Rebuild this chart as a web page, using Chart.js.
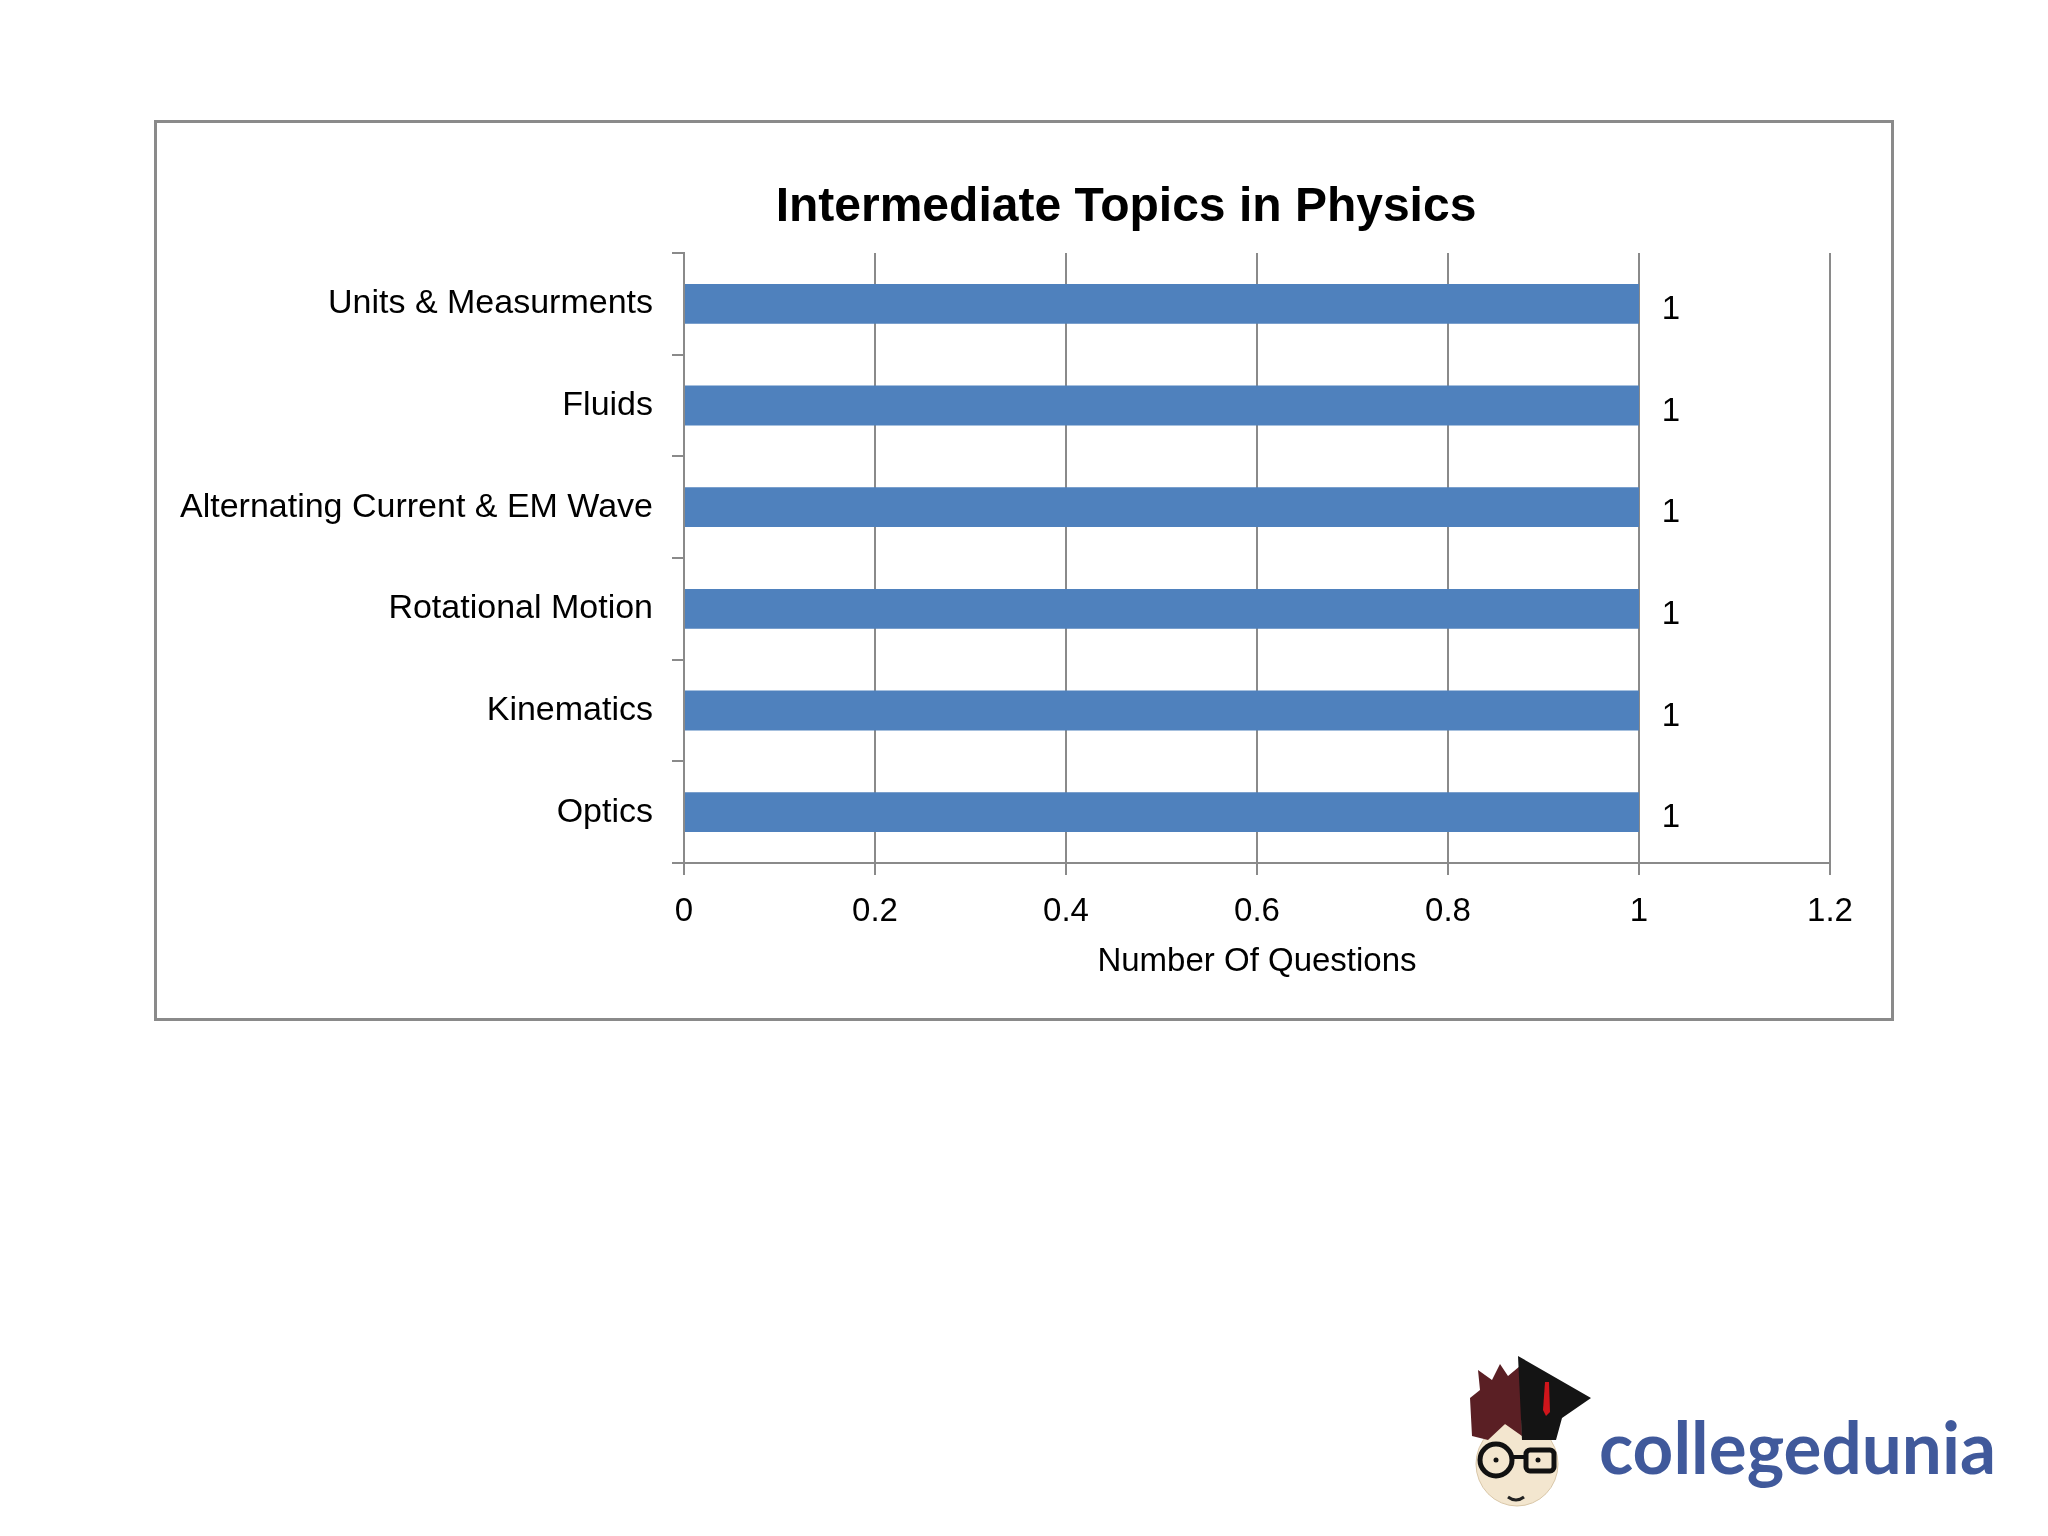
<!DOCTYPE html>
<html>
<head>
<meta charset="utf-8">
<script src="https://cdn.jsdelivr.net/npm/chart.js@4.4.1/dist/chart.umd.min.js"></script>
<style>
  html, body { margin: 0; padding: 0; background: #ffffff; width: 2048px; height: 1536px; overflow: hidden; }
  #frame { position: absolute; left: 154px; top: 120px; width: 1734px; height: 895px; border: 3px solid #8a8a8a; background: #fff; }
  #frame canvas { display: block; }
  #logo { position: absolute; left: 1440px; top: 1330px; width: 600px; height: 200px; }
</style>
</head>
<body>
<div id="frame"><canvas id="chart"></canvas></div>
<svg id="logo" width="600" height="200" viewBox="1440 1330 600 200" xmlns="http://www.w3.org/2000/svg">
  <!-- face -->
  <ellipse cx="1517" cy="1464" rx="41" ry="42" fill="#f3e6cf" stroke="#d9c7a8" stroke-width="1"/>
  <!-- hair -->
  <path d="M1472 1436 L1470 1398 L1480 1390 L1478 1370 L1492 1380 L1500 1364 L1508 1376 L1520 1366 L1522 1436 L1505 1424 L1488 1440 Z" fill="#5a1f24"/>
  <!-- mortarboard -->
  <path d="M1518 1356 L1591 1398 L1562 1418 L1556 1440 L1522 1440 Z" fill="#141414"/>
  <path d="M1545 1382 L1549 1382 L1550 1412 L1546 1416 L1543 1410 Z" fill="#d0151b"/>
  <!-- glasses -->
  <circle cx="1496" cy="1460" r="16" fill="none" stroke="#111" stroke-width="5"/>
  <rect x="1526" y="1450" width="28" height="21" rx="4" fill="none" stroke="#111" stroke-width="5"/>
  <line x1="1512" y1="1457" x2="1526" y2="1457" stroke="#111" stroke-width="4"/>
  <circle cx="1496" cy="1460" r="2.5" fill="#111"/>
  <circle cx="1538" cy="1460" r="2.5" fill="#111"/>
  <path d="M1508 1497 Q1516 1503 1524 1497" fill="none" stroke="#222" stroke-width="3"/>
  <!-- wordmark -->
  <text x="1599" y="1474" font-family="Lato, 'Open Sans', sans-serif" font-weight="700" font-size="72" textLength="397" lengthAdjust="spacingAndGlyphs" fill="#40599b">collegedunia</text>
</svg>
<script>
// ---- data ----
const chartTitle = 'Intermediate Topics in Physics';
const categories = ['Units & Measurments', 'Fluids', 'Alternating Current & EM Wave', 'Rotational Motion', 'Kinematics', 'Optics'];
const questionCounts = [1, 1, 1, 1, 1, 1];
const xTickLabels = ['0', '0.2', '0.4', '0.6', '0.8', '1', '1.2'];
const xAxisTitle = 'Number Of Questions';

// ---- styling ----
const FONT = '"Liberation Sans", Arial, sans-serif';
const GRID = '#8a8a8a';

const valueLabels = {
  id: 'valueLabels',
  afterDatasetsDraw(chart) {
    const ctx = chart.ctx;
    const meta = chart.getDatasetMeta(0);
    const values = chart.data.datasets[0].data;
    ctx.save();
    ctx.font = '33px ' + FONT;
    ctx.fillStyle = '#000';
    ctx.textAlign = 'center';
    ctx.textBaseline = 'middle';
    meta.data.forEach((bar, i) => {
      ctx.fillText(String(values[i]), bar.x + 32, bar.y + 6);
    });
    ctx.restore();
  }
};

// Title drawn off-centre, as in the original (centred over the right part of the frame)
const offsetTitle = {
  id: 'offsetTitle',
  afterDraw(chart) {
    const ctx = chart.ctx;
    ctx.save();
    ctx.font = 'bold 48px ' + FONT;
    ctx.fillStyle = '#000';
    ctx.textAlign = 'center';
    ctx.textBaseline = 'middle';
    ctx.fillText(chartTitle, 969, 85);
    ctx.restore();
  }
};

new Chart(document.getElementById('chart'), {
  type: 'bar',
  data: {
    labels: categories,
    datasets: [{
      data: questionCounts,
      backgroundColor: '#4f81bd',
      borderWidth: 0,
      categoryPercentage: 0.8,
      barPercentage: 0.49
    }]
  },
  options: {
    indexAxis: 'y',
    responsive: true,
    maintainAspectRatio: false,
    animation: false,
    devicePixelRatio: 1,
    layout: { padding: { left: 0, right: 61, top: 130, bottom: 0 } },
    plugins: {
      legend: { display: false },
      tooltip: { enabled: false },
      title: { display: false }
    },
    scales: {
      x: {
        type: 'linear',
        min: 0,
        max: 1.2,
        ticks: {
          stepSize: 0.2,
          color: '#000',
          font: { family: FONT, size: 33 },
          padding: 17,
          callback: (v, i) => xTickLabels[i]
        },
        grid: { color: GRID, lineWidth: 2, drawTicks: true, tickLength: 12 },
        border: { display: true, color: GRID, width: 2 },
        title: {
          display: true,
          text: xAxisTitle,
          color: '#000',
          font: { family: FONT, size: 33, lineHeight: 1.2 },
          padding: { top: 0, bottom: 36 }
        },
        afterFit(scale) { scale.height = 155; }
      },
      y: {
        type: 'category',
        offset: true,
        ticks: {
          color: '#000',
          font: { family: FONT, size: 34 },
          padding: 19
        },
        grid: { offset: true, drawOnChartArea: false, drawTicks: true, tickLength: 12, color: GRID, lineWidth: 2 },
        border: { display: true, color: GRID, width: 2 },
        afterFit(scale) { scale.width = 527; }
      }
    }
  },
  plugins: [valueLabels, offsetTitle]
});
</script>
</body>
</html>
